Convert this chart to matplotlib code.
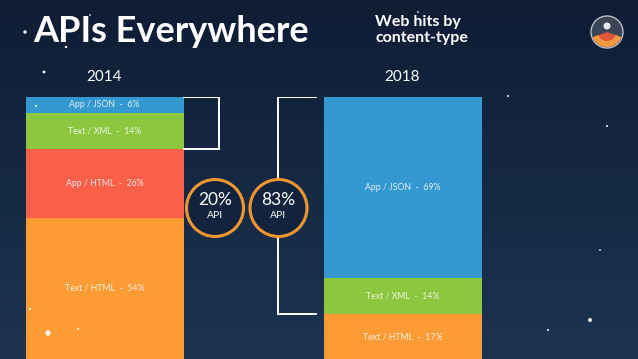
import matplotlib
matplotlib.use('Agg')
import matplotlib.pyplot as plt
import numpy as np
from matplotlib.patches import Circle, Wedge
from matplotlib.colors import LinearSegmentedColormap

# Data
years = ['2014', '2018']
types_2014 = ['App / JSON', 'Text / XML', 'App / HTML', 'Text / HTML']
pct_2014 = [6, 14, 26, 54]
types_2018 = ['App / JSON', 'Text / XML', 'Text / HTML']
pct_2018 = [69, 14, 17]
api_share = ['20%', '83%']

colors = {'App / JSON': '#3498d1', 'Text / XML': '#8dc740',
          'App / HTML': '#fa5f49', 'Text / HTML': '#fd9b34'}

W, H = 638, 359
bar_top = 97
bar_x = [104.5, 402.5]
bar_w = 158

plt.rcParams['font.family'] = ['Lato', 'DejaVu Sans']

fig = plt.figure(figsize=(W / 100, H / 100), dpi=100)

# background gradient
bg = fig.add_axes([0, 0, 1, 1], zorder=0)
grad = np.linspace(0, 1, 256).reshape(-1, 1)
cmap = LinearSegmentedColormap.from_list('bg', ['#0f1d35', '#1c3452'])
bg.imshow(grad, aspect='auto', cmap=cmap, extent=[0, W, H, 0])
bg.set_xlim(0, W)
bg.set_ylim(H, 0)
bg.axis('off')

# bar axes: y in percent, 0 at top
ax = fig.add_axes([0, 0, 1, (H - bar_top) / H], zorder=1)
ax.patch.set_alpha(0)
ax.set_xlim(0, W)
ax.set_ylim(100, 0)
ax.axis('off')

for xc, types, pcts in [(bar_x[0], types_2014, pct_2014), (bar_x[1], types_2018, pct_2018)]:
    bottom = 0
    for t, p in zip(types, pcts):
        ax.bar(xc, p, bottom=bottom, width=bar_w, color=colors[t], linewidth=0)
        ax.text(xc, bottom + p / 2, f'{t}  -  {p}%', ha='center', va='center',
                fontsize=6.3, color='white', alpha=0.85)
        bottom += p

# brackets around API share
lw = 1.4
api14 = pct_2014[0] + pct_2014[1]
api18 = pct_2018[0] + pct_2018[1]
x1 = bar_x[0] + bar_w / 2
ax.plot([x1, 219, 219, x1], [0, 0, api14, api14], color='white', lw=lw,
        solid_joinstyle='miter')
x2 = bar_x[1] - bar_w / 2 - 8
ax.plot([x2, 278, 278, x2], [0, 0, api18, api18], color='white', lw=lw,
        solid_joinstyle='miter')

# overlay in pixel coords
ov = fig.add_axes([0, 0, 1, 1], zorder=2)
ov.patch.set_alpha(0)
ov.set_xlim(0, W)
ov.set_ylim(H, 0)
ov.axis('off')

for cx, lab in zip([215, 278.5], api_share):
    ov.add_patch(Circle((cx, 208), 28.5, facecolor='#13233d', edgecolor='#ee9630', lw=2.2))
    ov.text(cx, 200, lab, ha='center', va='center', fontsize=12.5, color='white')
    ov.text(cx, 216, 'API', ha='center', va='center', fontsize=7.5, color='white')

ov.text(33, 31, 'APIs Everywhere', fontsize=26, fontweight='bold', color='white',
        ha='left', va='center')
ov.text(375, 30, 'Web hits by\ncontent-type', fontsize=11.5, fontweight='bold',
        color='white', ha='left', va='center', multialignment='left', linespacing=1.1)
for xc, y in zip(bar_x, years):
    ov.text(xc, 77, y, ha='center', va='center', fontsize=11, color='white')

# stars
stars_x = [25, 66, 44, 48, 36, 508, 607, 590, 548, 30, 78, 600, 418, 90]
stars_y = [32, 47, 72, 333, 106, 96, 126, 320, 330, 309, 329, 250, 12, 15]
stars_s = [6, 3, 4, 14, 2, 2, 2, 8, 2, 2, 2, 1.5, 1.5, 1.5]
ov.scatter(stars_x, stars_y, s=stars_s, color='white', linewidths=0)

# logo
ov.add_patch(Circle((607, 32), 16, facecolor='#3a4656', edgecolor='#b9bec4', lw=1))
ov.add_patch(Wedge((607, 32), 15, 20, 160, facecolor='#e0553a'))
ov.add_patch(Wedge((607, 32), 15, 20, 160, width=6, facecolor='#f29a40'))
ov.add_patch(Circle((607, 26), 3.5, facecolor='#e6e8ea'))

fig.savefig('out.png', dpi=100)
